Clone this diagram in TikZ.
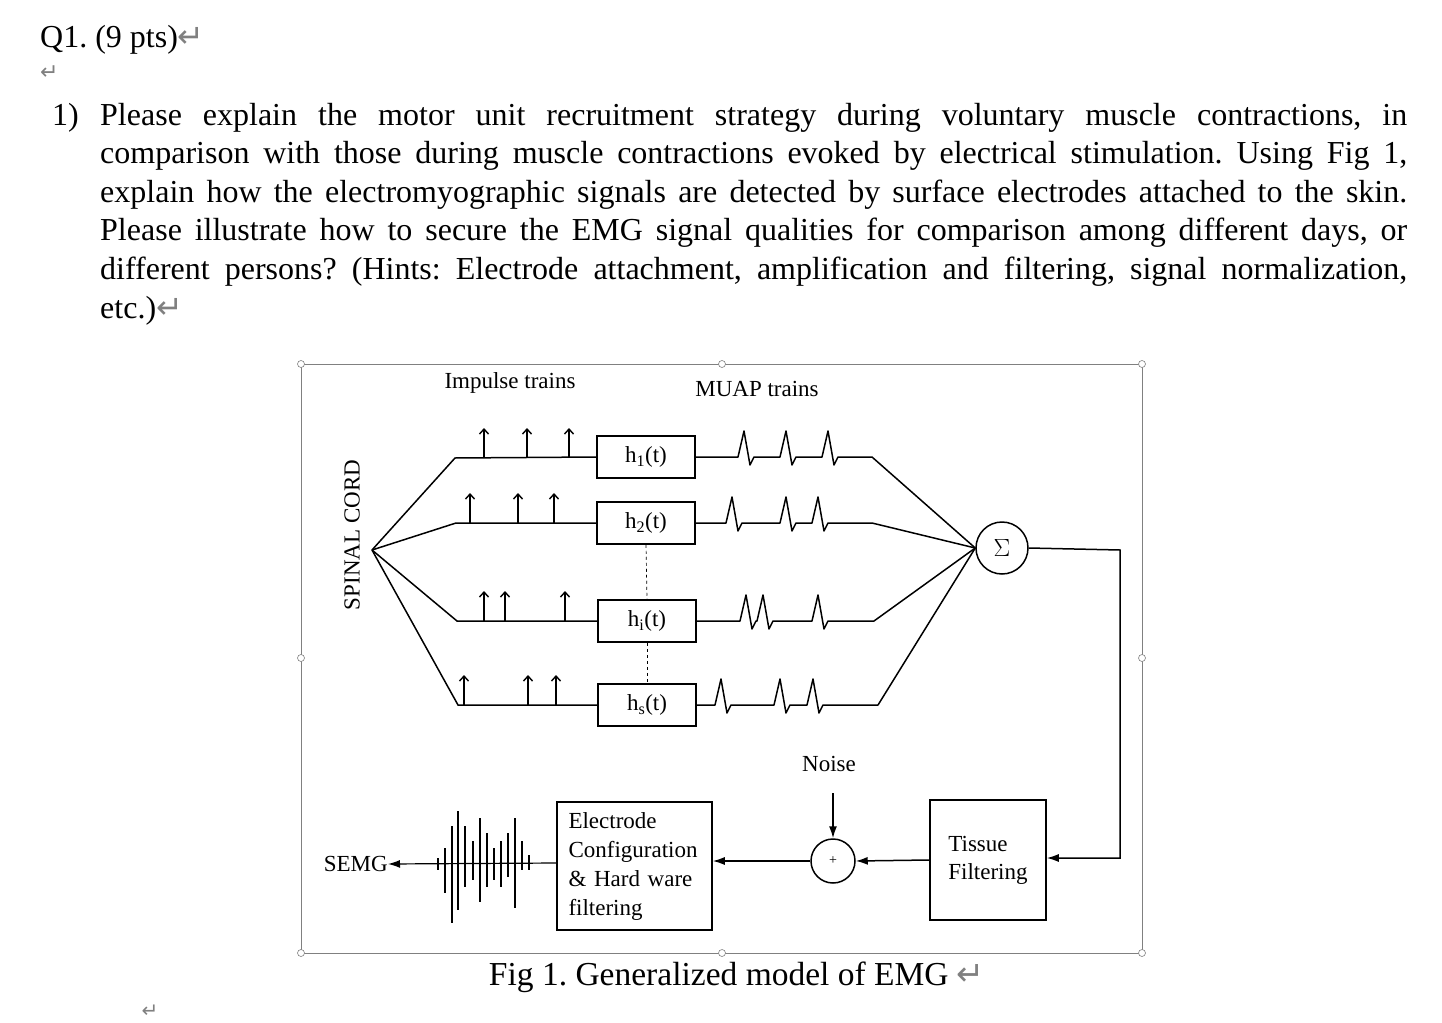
\documentclass[tikz,border=0pt]{standalone}
\usepackage{fontspec}
\setmainfont{Liberation Serif}
\newfontfamily\symf{DejaVu Sans}
\usetikzlibrary{arrows.meta}
\newcommand{\ret}{{\symf\color{gray}\char"21B5}}
\frenchspacing
\begin{document}
\begin{tikzpicture}[x=1pt,y=-1pt,
  blk/.style={draw,line width=1.5pt,inner sep=0pt},
  ln/.style={line width=1.5pt},
  arr/.style={ln,-{Latex[length=12pt,width=8pt]}},
  imp/.style={line width=1.4pt,-{Straight Barb[length=5pt,width=9pt]}},
  lab/.style={font=\fontsize{23}{26}\selectfont,inner sep=0pt},
  handle/.style={draw=gray,fill=white,line width=0.6pt,circle,inner sep=0pt,minimum size=7pt}]
\useasboundingbox (0,0) rectangle (1442,1022);
% header text
\node[anchor=base west,inner sep=0,font=\fontsize{32}{36}\selectfont] (q1) at (40,48) {Q1. (9 pts)\ret};
\node[anchor=base west,inner sep=0,font=\fontsize{22}{24}\selectfont] (r0) at (40,80) {\ret};
\node[anchor=base west,inner sep=0,font=\fontsize{32}{36}\selectfont] (n1) at (52,125) {1)};
\node[anchor=base west,inner sep=0,font=\fontsize{32}{38.6}\selectfont] (para) at (100,125) {\parbox[t]{1307pt}{\fontsize{32}{38.6}\selectfont
Please explain the motor unit recruitment strategy during voluntary muscle contractions, in\linebreak
comparison with those during muscle contractions evoked by electrical stimulation. Using Fig 1,\linebreak
explain how the electromyographic signals are detected by surface electrodes attached to the skin.\linebreak
Please illustrate how to secure the EMG signal qualities for comparison among different days, or\linebreak
different persons? (Hints: Electrode attachment, amplification and filtering, signal normalization,\linebreak
etc.)\ret}};
% frame
\draw[gray,line width=0.7pt] (301,364) rectangle (1142,953);
\foreach \p in {(301,364),(722,364),(1142,364),(301,658),(1142,658),(301,953),(722,953),(1142,953)}
  \node[handle] at \p {};
\node[anchor=base,inner sep=0,font=\fontsize{33.5}{36}\selectfont] (cap) at (737,985) {Fig 1. Generalized model of EMG \ret};
\node[inner sep=0,font=\fontsize{20}{22}\selectfont] (r1) at (150,1011) {\ret};
% labels
\node[lab] (imptr) at (510,383) {Impulse trains};
\node[lab] (muap) at (757,389) {MUAP trains};
\node[lab,rotate=90] (sc) at (352,535) {SPINAL CORD};
\coordinate (apex) at (372,550);
% boxes
\node[blk,minimum width=98pt,minimum height=42pt,lab] (h1) at (646,457) {h\textsubscript{1}(t)};
\node[blk,minimum width=98pt,minimum height=42pt,lab] (h2) at (646,523) {h\textsubscript{2}(t)};
\node[blk,minimum width=98pt,minimum height=42pt,lab] (hi) at (647,621) {h\textsubscript{i}(t)};
\node[blk,minimum width=98pt,minimum height=42pt,lab] (hs) at (647,705) {h\textsubscript{s}(t)};
\draw[dashed,line width=0.7pt] (h2.south) -- (hi.north);
\draw[dashed,line width=0.7pt] (hi.south) -- (hs.north);
\node[draw,circle,line width=1.5pt,minimum size=52pt,inner sep=0,lab] (sig) at (1002,548) {$\Sigma$};
% input branches
\draw[ln] (apex) -- (455,458) -- (h1.west);
\draw[ln] (apex) -- (456,523) -- (h2.west);
\draw[ln] (apex) -- (457,621) -- (hi.west);
\draw[ln] (apex) -- (458,705) -- (hs.west);
\foreach \x in {484,527,569} \draw[imp] (\x,458) -- (\x,428);
\foreach \x in {470,518,554} \draw[imp] (\x,523) -- (\x,493);
\foreach \x in {484,505,565} \draw[imp] (\x,621) -- (\x,591);
\foreach \x in {464,528,556} \draw[imp] (\x,705) -- (\x,675);
% MUAP rows
\draw[ln,line join=round] (h1.east) \foreach \s in {738,780,822}{ -- (\s,457) -- ++(6,-26) -- ++(6,34) -- ++(4,-8)} -- (872,457) -- (sig.west);
\draw[ln,line join=round] (h2.east) \foreach \s in {726,780,812}{ -- (\s,523) -- ++(6,-26) -- ++(6,34) -- ++(4,-8)} -- (872,523) -- (sig.west);
\draw[ln,line join=round] (hi.east) \foreach \s in {740,757,812}{ -- (\s,621) -- ++(6,-26) -- ++(6,34) -- ++(4,-8)} -- (874,621) -- (sig.west);
\draw[ln,line join=round] (hs.east) \foreach \s in {715,774,807}{ -- (\s,705) -- ++(6,-26) -- ++(6,34) -- ++(4,-8)} -- (878,705) -- (sig.west);
% lower chain
\node[blk,minimum width=116pt,minimum height=120pt,lab,align=left] (tis) at (988,860) {Tissue\\[2pt]Filtering};
\node[draw,circle,line width=1.5pt,minimum size=44pt,inner sep=0] (plus) at (833,861) {\fontsize{14}{14}\selectfont +};
\node[lab] (noise) at (829,764) {Noise};
\node[blk,minimum width=155pt,minimum height=128pt,lab,align=left,text width=132pt] (el) at (634.5,866) {Electrode\\[3pt]Configuration\\[3pt]\& Hard ware\\[3pt]filtering};
\node[lab,anchor=east] (semg) at (388,864) {SEMG};
\draw[arr] (sig.east) -- (1120,550) -- (1120,858) -- (tis.east |- 0,858);
\draw[arr] (tis.west |- 0,860) -- (plus.east);
\draw[arr] (833,793) -- (plus.north);
\draw[arr] (plus.west) -- (el.east |- 0,861);
\draw[arr,line width=1.2pt] (el.west |- 0,863) -- (semg.east);
% SEMG burst
\foreach \x/\a/\b in {438/858/870,445/848/893,452/826/923,458/811/910,465/826/887,473/841/880,480/818/902,487/833/887,494/848/880,501/841/887,508/833/877,515/818/908,522/841/870,529/855/870}
  \draw[line width=1.3pt] (\x,\a) -- (\x,\b);
\end{tikzpicture}
\end{document}
